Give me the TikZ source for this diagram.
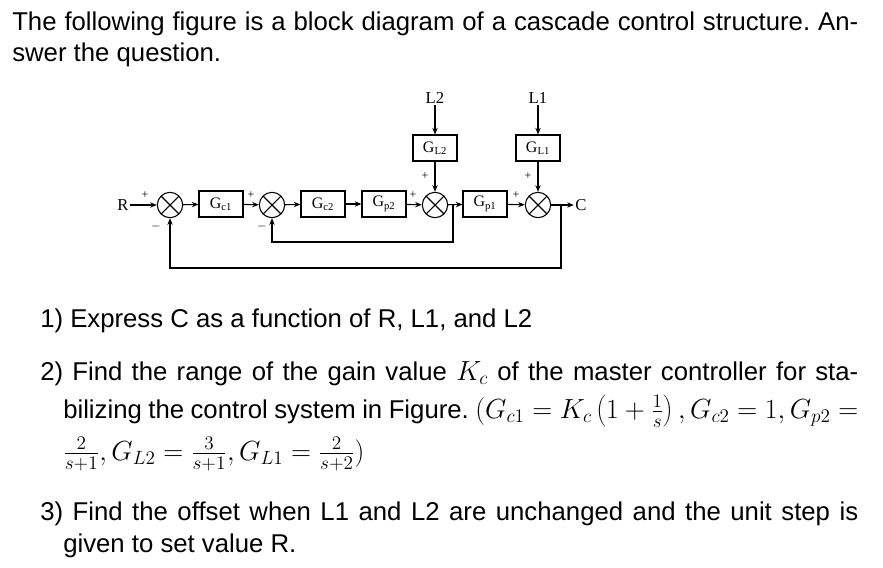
\documentclass[tikz,border=0pt]{standalone}
\usepackage{fontspec}
\setmainfont{Liberation Sans}
\newfontfamily\diag{Liberation Serif}
\usetikzlibrary{arrows.meta}
\begin{document}
\frenchspacing
\begin{tikzpicture}[x=0.75pt,y=-0.75pt,
  blk/.style={draw,line width=0.8pt,minimum width=33pt,minimum height=19.5pt,inner sep=0pt,font=\diag\fontsize{12}{13}\selectfont},
  sum/.style={draw,circle,line width=0.8pt,minimum size=19pt,inner sep=0pt,path picture={\draw[line width=0.8pt] (path picture bounding box.north west)--(path picture bounding box.south east) (path picture bounding box.north east)--(path picture bounding box.south west);}},
  lab/.style={font=\diag\fontsize{12.5}{14}\selectfont,inner sep=1pt},
  sg/.style={font=\diag\fontsize{9}{10}\selectfont,inner sep=0pt},
  ar/.style={line width=0.8pt,-{Stealth[length=5pt,width=4pt]}},
  txt/.style={anchor=base west,inner sep=0pt,font=\fontsize{19.3}{22}\selectfont}]
\useasboundingbox (0,0) rectangle (883,568);
% text
\node[txt] (t1) at (12,30) {\makebox[846\dimexpr0.75pt\relax][s]{The following figure is a block diagram of a cascade control structure. An-}};
\node[txt] (t2) at (12,61) {swer the question.};
\node[txt] (q1) at (40,327) {1) Express C as a function of R, L1, and L2};
\node[txt] (q2) at (40,380) {\makebox[818\dimexpr0.75pt\relax][s]{2) Find the range of the gain value ${K_c}$ of the master controller for sta-}};
\node[txt] (q2b) at (63,418) {\makebox[795\dimexpr0.75pt\relax][s]{bilizing the control system in Figure. ${(G_{c1}=K_c\left(1+\frac{1}{s}\right),G_{c2}=1,G_{p2}=}$}};
\node[txt] (q2c) at (63,460) {$\frac{2}{s+1},G_{L2}=\frac{3}{s+1},G_{L1}=\frac{2}{s+2})$};
\node[txt] (q3) at (40,520) {\makebox[818\dimexpr0.75pt\relax][s]{3) Find the offset when L1 and L2 are unchanged and the unit step is}};
\node[txt] (q3b) at (63,552) {given to set value R.};
% diagram
\node[lab] (R) at (123,205) {R};
\node[sum] (s1) at (170,205) {};
\node[blk] (gc1) at (221,204) {G\textsubscript{c1}};
\node[sum] (s2) at (272,205) {};
\node[blk] (gc2) at (323,204) {G\textsubscript{c2}};
\node[blk] (gp2) at (384,204) {G\textsubscript{p2}};
\node[sum] (s3) at (435,205) {};
\node[blk] (gp1) at (485,204) {G\textsubscript{p1}};
\node[sum] (s4) at (538,205) {};
\node[lab] (C) at (581,205) {C};
\node[blk] (gl2) at (435,148) {G\textsubscript{L2}};
\node[blk] (gl1) at (538,148) {G\textsubscript{L1}};
\node[lab] (L2) at (435,98) {L2};
\node[lab] (L1) at (538,98) {L1};
\coordinate (f1) at (453,205);
\coordinate (f2) at (561,205);
\draw[ar] (R)--(s1);
\draw[ar] (s1)--(gc1);
\draw[ar] (gc1)--(s2);
\draw[ar] (s2)--(gc2);
\draw[ar] (gc2)--(gp2);
\draw[ar] (gp2)--(s3);
\draw[ar] (s3)--(gp1);
\draw[ar] (gp1)--(s4);
\draw[ar] (s4)--(C);
\draw[ar] (L2)--(gl2);
\draw[ar] (L1)--(gl1);
\draw[ar] (gl2)--(s3);
\draw[ar] (gl1)--(s4);
\draw[ar] (f1)--(453,242)-|(s2.south);
\draw[ar] (f2)--(561,268)-|(s1.south);
% signs
\node[sg] (p1) at (145,195) {+};
\node[sg] (m1) at (156,226) {$-$};
\node[sg] (p2) at (251,195) {+};
\node[sg] (m2) at (262,226) {$-$};
\node[sg] (p3) at (413,195) {+};
\node[sg] (p3b) at (425,176) {+};
\node[sg] (p4) at (516,195) {+};
\node[sg] (p4b) at (528,176) {+};
\end{tikzpicture}
\end{document}
